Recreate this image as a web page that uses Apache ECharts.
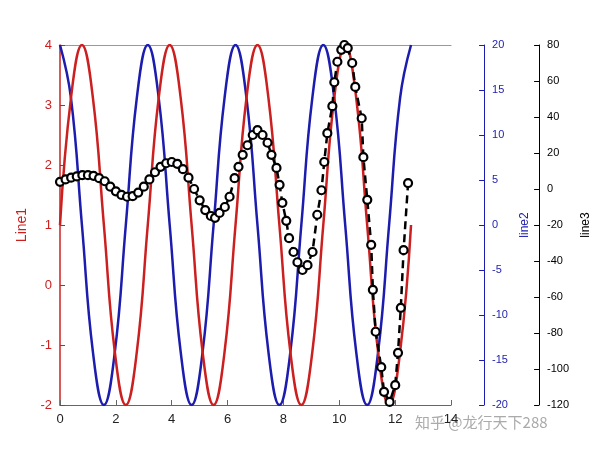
<!DOCTYPE html>
<html>
<head>
<meta charset="utf-8">
<script src="https://cdn.jsdelivr.net/npm/echarts@6/dist/echarts.min.js"></script>
<style>html,body{margin:0;background:#fff}#c{width:600px;height:450px}</style>
</head>
<body>
<div id="c"></div>
<script>
// x positions of the red/blue curves (every pi/8)
var waveX = [0,0.393,0.785,1.178,1.571,1.963,2.356,2.749,3.142,3.534,3.927,4.320,4.712,5.105,5.498,5.890,6.283,
  6.676,7.069,7.461,7.854,8.247,8.639,9.032,9.425,9.817,10.210,10.603,10.996,11.388,11.781,12.174,12.566];
var line1 = [1,3.12,4,3.12,1,-1.12,-2,-1.12,1,3.12,4,3.12,1,-1.12,-2,-1.12,1,3.12,4,3.12,1,-1.12,-2,-1.12,1,3.12,4,3.12,1,-1.12,-2,-1.12,1];
var line2 = [20,14.1,0,-14.1,-20,-14.1,0,14.1,20,14.1,0,-14.1,-20,-14.1,0,14.1,20,14.1,0,-14.1,-20,-14.1,0,14.1,20,14.1,0,-14.1,-20,-14.1,0,14.1,20];
// black circles
var line3X = [0,0.2,0.4,0.6,0.8,1.0,1.2,1.4,1.6,1.8,2.0,2.2,2.4,2.6,2.8,3.0,3.2,3.4,3.6,3.8,4.0,4.2,4.4,4.6,4.8,5.0,5.2,5.4,5.55,
  5.71,5.9,6.07,6.25,6.39,6.54,6.71,6.9,7.07,7.25,7.43,7.57,7.75,7.86,7.96,8.1,8.2,8.36,8.5,8.68,8.86,9.04,9.21,9.36,9.46,9.57,9.75,9.82,9.93,
  10.07,10.18,10.3,10.46,10.57,10.8,10.86,11.0,11.14,11.2,11.3,11.5,11.6,11.8,12.0,12.1,12.2,12.3,12.46];
var line3 = [4,5.3,6.3,7,7.7,7.7,7.3,6,4.3,1.3,-1.3,-3.3,-4.3,-4,-2,1.3,5.3,9.3,12.3,14.3,15,14,11,6.3,0,-6.3,-11.7,-15,-16,
  -13.3,-10,-4.3,6,12.3,19,24.3,30,32.7,30,25.7,19,11.7,2.3,-7.7,-17.7,-27.3,-35,-40.7,-45,-42.3,-35,-14.3,-0.7,15,31,46,59.3,70.7,
  77.3,80,78.3,70,56.7,39.3,17.7,-6,-31,-56,-79.3,-99,-112.7,-118.3,-109,-91,-66,-34,3.3];

function pairs(xs, ys) {
  return xs.map(function(x, i){ return [x, ys[i]]; });
}

var red = '#cc2020', blue = '#1c1cae', font = 'Liberation Sans';
var chart = echarts.init(document.getElementById('c'));
chart.setOption({
  animation: false,
  textStyle: {fontFamily: font},
  grid: {left: 60, right: 148, top: 45, bottom: 45},
  xAxis: [{
    type: 'value', min: 0, max: 14, interval: 2, position: 'bottom',
    axisLine: {onZero: false, lineStyle: {color: '#666'}},
    axisTick: {inside: true, lineStyle: {color: '#666'}},
    axisLabel: {color: '#222', fontSize: 13},
    splitLine: {show: false}
  }, {
    type: 'value', min: 0, max: 14, position: 'top',
    axisLine: {onZero: false, lineStyle: {color: '#999'}},
    axisTick: {show: false}, axisLabel: {show: false}, splitLine: {show: false}
  }],
  yAxis: [
    {type: 'value', min: -2, max: 4, interval: 1, position: 'left', name: 'Line1', nameLocation: 'middle', nameGap: 26,
     nameTextStyle: {color: red, fontSize: 14},
     axisLine: {show: true, onZero: false, lineStyle: {color: red, width: 1.5}}, axisTick: {show: true, inside: true},
     axisLabel: {color: red, fontSize: 13}, splitLine: {show: false}},
    {type: 'value', min: -20, max: 20, interval: 5, position: 'right', offset: 33, name: 'line2', nameLocation: 'middle', nameGap: 28,
     nameRotate: 90, nameTextStyle: {color: blue, fontSize: 12},
     axisLine: {show: true, onZero: false, lineStyle: {color: blue}}, axisTick: {show: true, inside: true},
     axisLabel: {color: blue, fontSize: 11}, splitLine: {show: false}},
    {type: 'value', min: -120, max: 80, interval: 20, position: 'right', offset: 88, name: 'line3', nameLocation: 'middle', nameGap: 34,
     nameRotate: 90, nameTextStyle: {color: '#000', fontSize: 12},
     axisLine: {show: true, onZero: false, lineStyle: {color: '#000'}}, axisTick: {show: true, inside: true},
     axisLabel: {color: '#000', fontSize: 11}, splitLine: {show: false}}
  ],
  series: [
    {type: 'line', yAxisIndex: 1, data: pairs(waveX, line2), smooth: 0.45, showSymbol: false,
     lineStyle: {color: blue, width: 2.5}},
    {type: 'line', yAxisIndex: 0, data: pairs(waveX, line1), smooth: 0.45, showSymbol: false,
     lineStyle: {color: red, width: 2.5}},
    {type: 'line', yAxisIndex: 2, data: pairs(line3X, line3), symbol: 'circle', symbolSize: 8,
     itemStyle: {color: '#fff', borderColor: '#000', borderWidth: 2.2},
     lineStyle: {color: '#000', width: 2.5, type: [8, 5]}}
  ],
  graphic: [{type: 'text', left: 415, top: 415, style: {text: '知乎 @龙行天下288', fill: '#aaa', fontSize: 15, fontFamily: 'Noto Sans CJK SC'}}]
});
</script>
</body>
</html>
